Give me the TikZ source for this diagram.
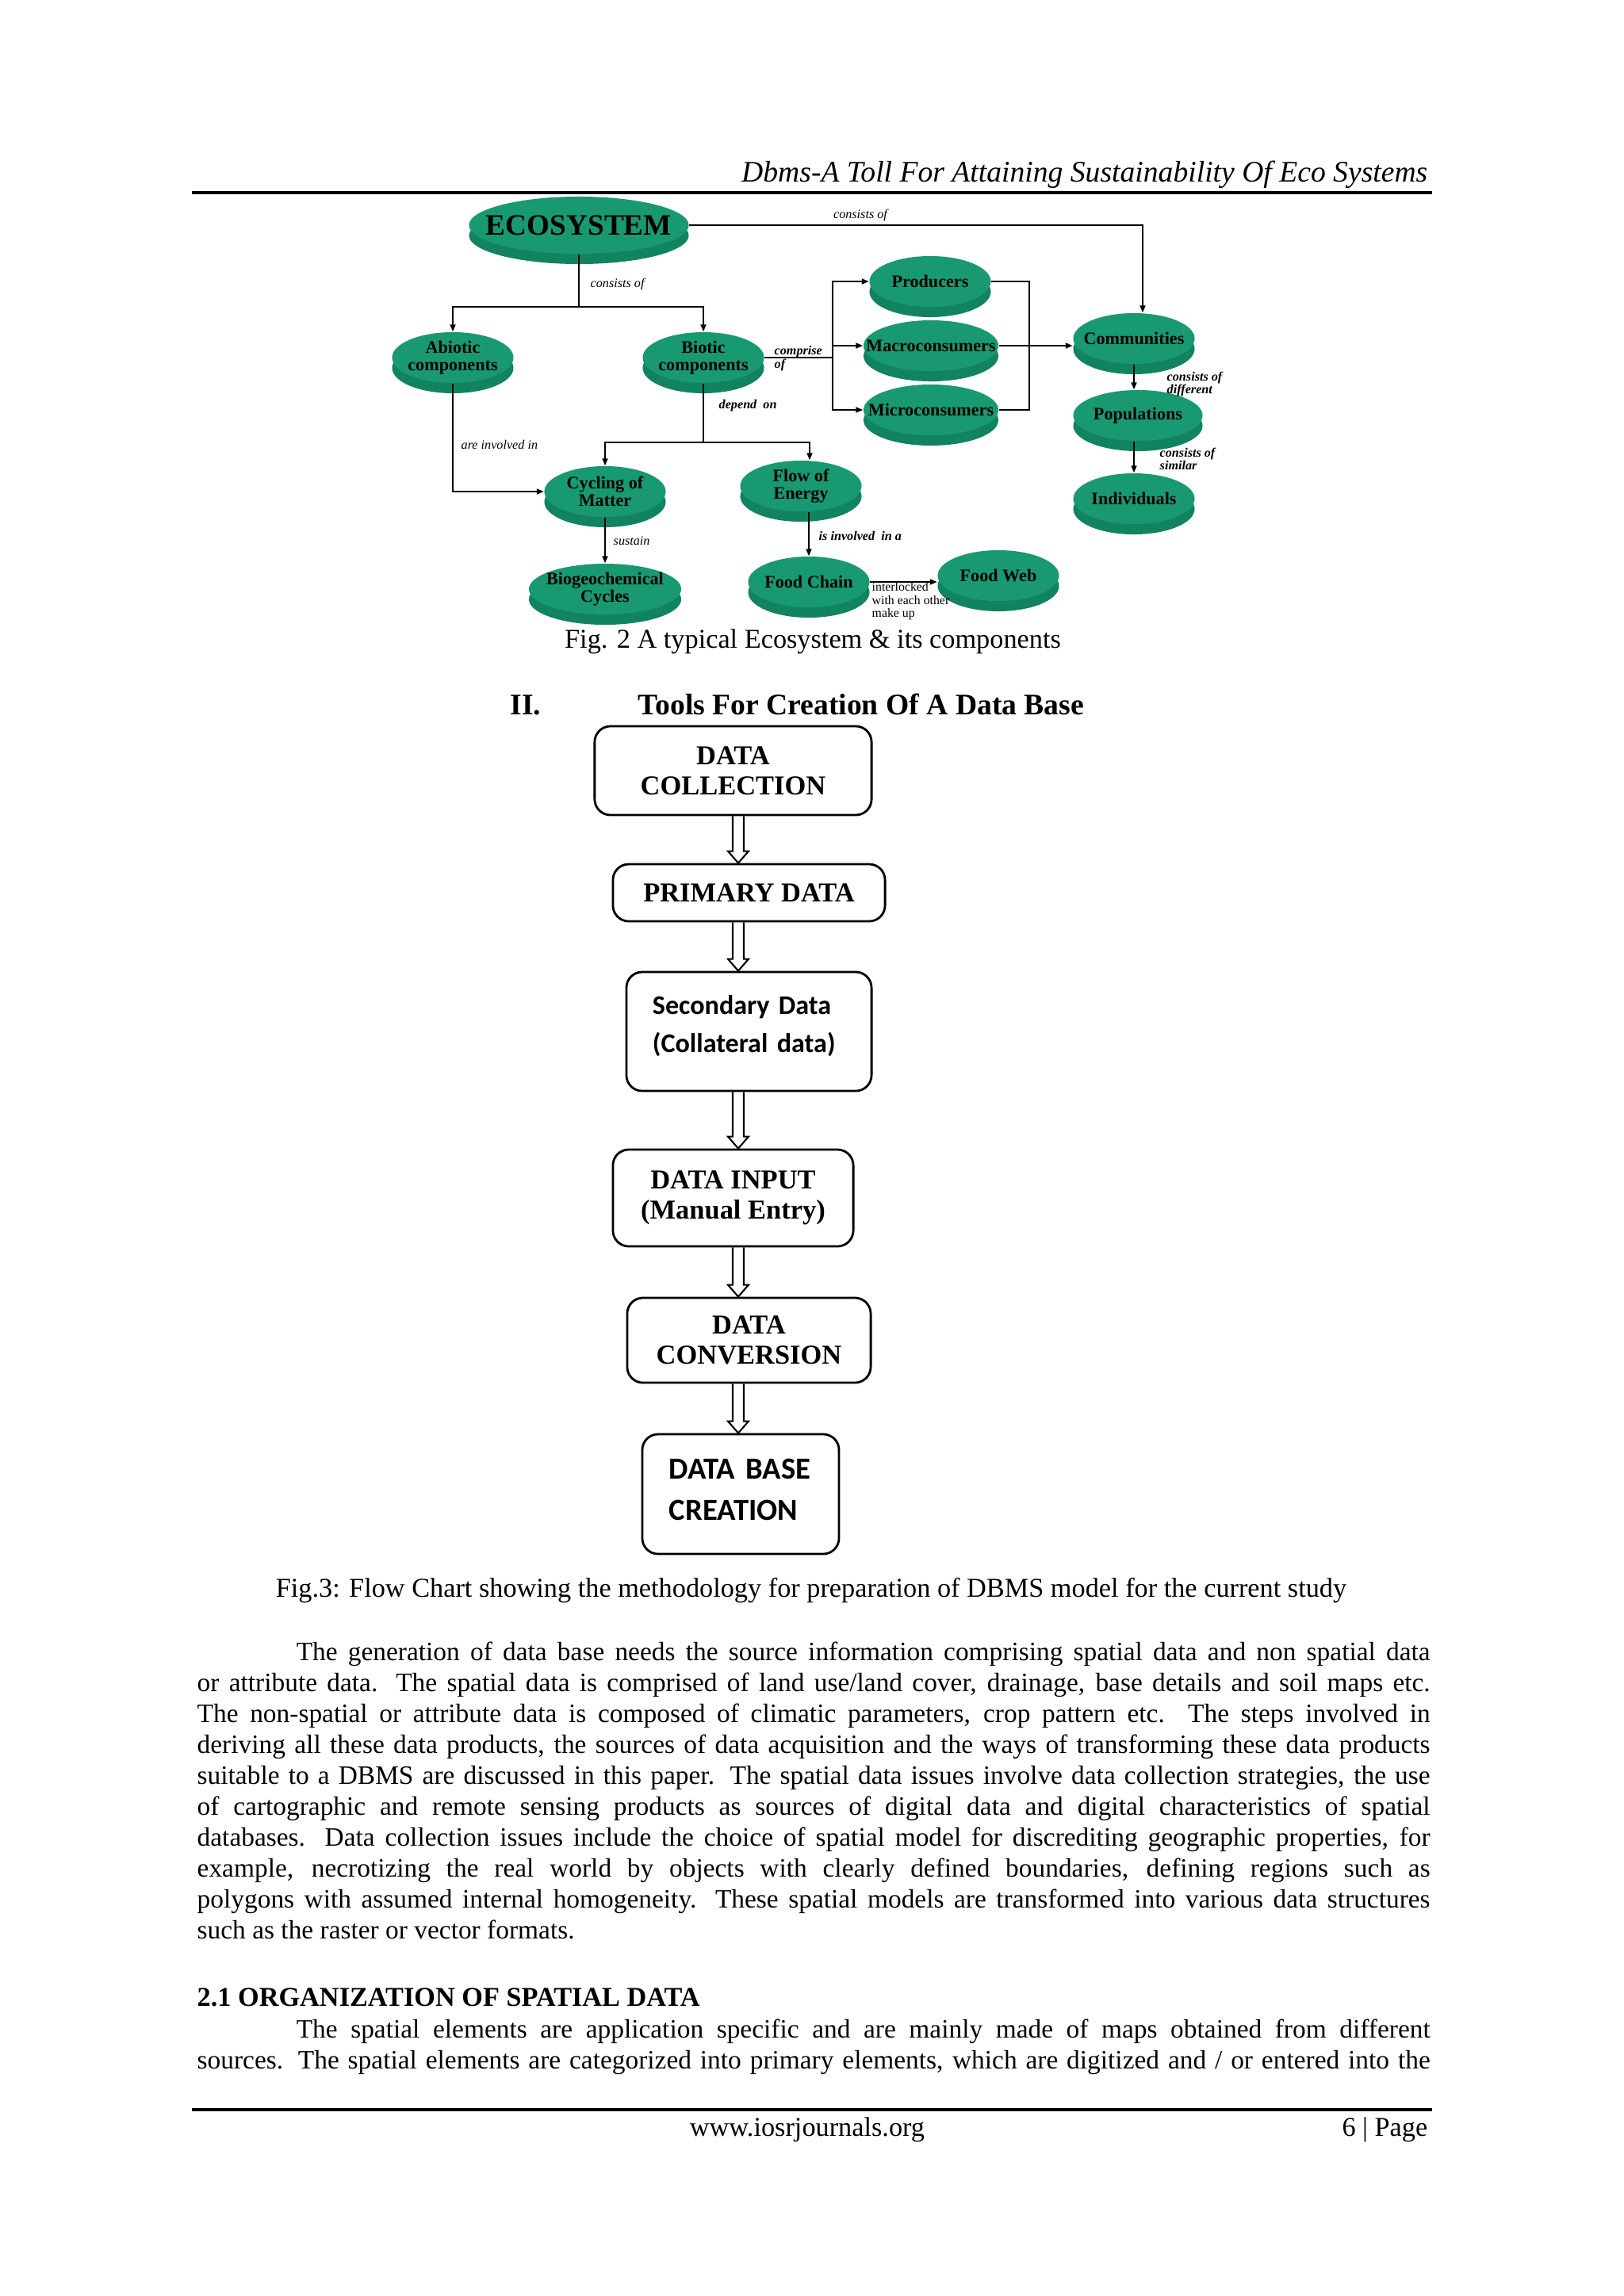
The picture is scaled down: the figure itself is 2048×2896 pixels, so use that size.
\documentclass[tikz,border=0pt]{standalone}
\usepackage{fontspec}
\setmainfont{Liberation Serif}
\newfontfamily\calibri{Carlito}
\usetikzlibrary{shapes.geometric,shadows,calc,arrows.meta}

\definecolor{ecogreen}{RGB}{25,153,113}
\definecolor{ecorim}{RGB}{18,131,96}

\tikzset{
  disk/.style={ellipse,fill=ecogreen,inner xsep=-0.3cm,inner ysep=-0.1cm,
    minimum width=1.53cm,minimum height=0.64cm,align=center,
    font=\bfseries\fontsize{6.3}{6.4}\selectfont,
    general shadow={shadow xshift=0pt,shadow yshift=-0.13cm,fill=ecorim}},
  link/.style={line width=0.5pt},
  arr/.style={link,-{Triangle[length=0.09cm,width=0.07cm]}},
  lab/.style={inner sep=0pt,anchor=west,font=\itshape\fontsize{4.6}{4.6}\selectfont},
  blab/.style={lab,font=\bfseries\itshape\fontsize{4.6}{4.6}\selectfont},
  flowbox/.style={draw,rounded corners=0.2cm,line width=0.8pt,align=center,
    inner sep=0pt,font=\bfseries\fontsize{9.8}{10.8}\selectfont},
  hollow/.style={line width=0.6pt},
  para/.style={anchor=base west,inner sep=0pt,font=\fontsize{9.5}{11.1}\selectfont},
  plain/.style={inner sep=0pt,font=\fontsize{9.75}{11.1}\selectfont},
}

\newcommand\justline[1]{\hbox to 15.54cm{#1}}
\newcommand\flowarrow[2]{%
  \draw[hollow] let \p1=(#1.south -| axis), \p2=(#2.north -| axis) in
    ({\x1-0.07cm},\y1) -- ({\x1-0.07cm},{\y2+0.15cm}) -- ({\x1-0.13cm},{\y2+0.15cm})
    -- (\p2) -- ({\x1+0.13cm},{\y2+0.15cm}) -- ({\x1+0.07cm},{\y2+0.15cm})
    -- ({\x1+0.07cm},\y1);}

\begin{document}
\begin{tikzpicture}[x=0.01cm,y=-0.01cm]
  \useasboundingbox[fill=white] (0,0) rectangle (2048,2896);
  % running head
  \node[anchor=base east,inner sep=0pt,font=\itshape\fontsize{10.7}{12}\selectfont] (runhead)
    at (1801,229) {Dbms-A Toll For Attaining Sustainability Of Eco Systems};
  \draw[line width=0.9pt] (242,243) -- (1806,243);

  % ecosystem
  \node[disk,minimum width=2.77cm,minimum height=0.72cm,
    font=\bfseries\fontsize{10.6}{11}\selectfont] (eco) at (730,284) {ECOSYSTEM};
  \node[disk] (abiotic) at (571,451) {Abiotic\\components};
  \node[disk] (biotic) at (887,451) {Biotic\\components};
  \node[disk] (prod) at (1173,355) {Producers};
  \node[disk,minimum width=1.70cm] (macro) at (1174,436) {Macroconsumers};
  \node[disk,minimum width=1.70cm] (micro) at (1174,517) {Microconsumers};
  \node[disk] (comm) at (1430,427) {Communities};
  \node[disk,minimum width=1.63cm] (popu) at (1435,524) {Populations};
  \node[disk] (indiv) at (1430,629) {Individuals};
  \node[disk] (cycle) at (763,620) {Cycling of\\Matter};
  \node[disk] (flow) at (1010,613) {Flow of\\Energy};
  \node[disk,minimum width=1.92cm] (biogeo) at (763,743) {Biogeochemical\\Cycles};
  \node[disk] (chain) at (1020,734) {Food Chain};
  \node[disk] (web) at (1259,726) {Food Web};

  % arrows
  \draw[arr] (eco.east) -| ([xshift=0.11cm]comm.north);
  \draw[arr] (eco.south) -- ++(0,66) -| (abiotic.north);
  \draw[arr] (eco.south) ++(0,66) -| (biotic.north);
  \draw[arr] (biotic.east) -- ++(86,0) |- (prod.west);
  \draw[arr] (biotic.east) ++(86,0) |- (macro.west);
  \draw[arr] (biotic.east) ++(86,0) |- (micro.west);
  \draw[link] (prod.east) -- ++(48,0) |- (micro.east);
  \draw[arr] (macro.east) -- (macro.east -| comm.west);
  \draw[arr] (comm.south) -- (comm.south |- popu.north);
  \draw[arr] (popu.south -| indiv.north) -- (indiv.north);
  \draw[arr] (biotic.south) -- ++(0,74) -| (cycle.north);
  \draw[arr] (biotic.south) ++(0,74) -| ([xshift=0.11cm]flow.north);
  \draw[arr] (abiotic.south) |- (cycle.west);
  \draw[arr] (cycle.south) -- (biogeo.north);
  \draw[arr] (chain.north |- flow.south) -- (chain.north);
  \draw[arr] (chain.east) -- (chain.east -| web.west);

  % labels
  \node[lab,anchor=center] (lconsist) at (1085,272) {consists of};
  \node[lab] (lsplit) at (744,359) {consists of};
  \node[blab,align=left,anchor=north west] (lcomp) at (976,436) {comprise\\of};
  \node[blab] (ldepend) at (906,512) {depend\ \ on};
  \node[lab] (linvolve) at (581,561) {are involved in};
  \node[lab] (lsustain) at (773,682) {sustain};
  \node[blab] (lchain) at (1032,676) {is involved\ \ in a};
  \node[lab,font=\fontsize{4.5}{4.7}\selectfont,align=left,anchor=north west] (linter)
    at (1099,734) {interlocked\\with each other\\make up};
  \node[blab,align=left,anchor=north west] (ldiff) at (1471,468) {consists of\\different};
  \node[blab,align=left,anchor=north west] (lsim) at (1462,564) {consists of\\similar};

  \node[plain,anchor=base] (cap2) at (1025,817) {Fig. 2 A typical Ecosystem \& its components};

  % section
  \node[anchor=base west,inner sep=0pt,font=\bfseries\fontsize{10.7}{12}\selectfont] (secnum)
    at (643,901) {II.};
  \node[anchor=base west,inner sep=0pt,font=\bfseries\fontsize{10.7}{12}\selectfont] (sectitle)
    at (804,901) {Tools For Creation Of A Data Base};

  % flow chart
  \coordinate (axis) at (931,0);
  \node[flowbox,minimum width=3.49cm,minimum height=1.12cm] (collect) at (924.5,972) {DATA\\COLLECTION};
  \node[flowbox,minimum width=3.43cm,minimum height=0.72cm] (primary) at (944.5,1126) {PRIMARY DATA};
  \node[flowbox,minimum width=3.09cm,minimum height=1.50cm,text width=2.43cm,align=left,
    inner xsep=0.33cm,text depth=0.67cm,font=\calibri\bfseries\fontsize{9.7}{13.6}\selectfont] (second)
    at (944.5,1301) {Secondary Data\\(Collateral data)};
  \node[flowbox,minimum width=3.03cm,minimum height=1.22cm] (input) at (924.5,1511) {DATA INPUT\\(Manual Entry)};
  \node[flowbox,minimum width=3.07cm,minimum height=1.07cm] (convert) at (944.5,1690.5) {DATA\\CONVERSION};
  \node[flowbox,minimum width=2.48cm,minimum height=1.51cm,text width=1.8cm,align=left,
    inner xsep=0.34cm,text depth=0.64cm,font=\calibri\bfseries\fontsize{11}{15}\selectfont] (dbase)
    at (934,1884.5) {DATA BASE\\CREATION};
  \flowarrow{collect}{primary}
  \flowarrow{primary}{second}
  \flowarrow{second}{input}
  \flowarrow{input}{convert}
  \flowarrow{convert}{dbase}

  \node[plain,anchor=base] (cap3) at (1023,2014)
    {Fig.3: Flow Chart showing the methodology for preparation of DBMS model for the current study};

  % text
  \node[para] (para1) at (248,2094) {\vtop{%
    \justline{\hspace*{1.25cm}The generation of data base needs the source information comprising spatial data and non spatial data}
    \justline{or attribute data. The spatial data is comprised of land use/land cover, drainage, base details and soil maps etc.}
    \justline{The non-spatial or attribute data is composed of climatic parameters, crop pattern etc.\ \ The steps involved in}
    \justline{deriving all these data products, the sources of data acquisition and the ways of transforming these data products}
    \justline{suitable to a DBMS are discussed in this paper. The spatial data issues involve data collection strategies, the use}
    \justline{of cartographic and remote sensing products as sources of digital data and digital characteristics of spatial}
    \justline{databases. Data collection issues include the choice of spatial model for discrediting geographic properties, for}
    \justline{example, necrotizing the real world by objects with clearly defined boundaries, defining regions such as}
    \justline{polygons with assumed internal homogeneity. These spatial models are transformed into various data structures}
    \hbox{such as the raster or vector formats.}}};
  \node[plain,anchor=base west,font=\bfseries\fontsize{9.75}{11.1}\selectfont] (sub21)
    at (248,2530) {2.1 ORGANIZATION OF SPATIAL DATA};
  \node[para] (para2) at (248,2570) {\vtop{%
    \justline{\hspace*{1.25cm}The spatial elements are application specific and are mainly made of maps obtained from different}
    \justline{sources. The spatial elements are categorized into primary elements, which are digitized and / or entered into the}}};

  % footer
  \draw[line width=0.9pt] (242,2661) -- (1806,2661);
  \node[plain,anchor=base] (site) at (1018,2694) {www.iosrjournals.org};
  \node[plain,anchor=base east] (page) at (1801,2694) {6 | Page};
\end{tikzpicture}
\end{document}
